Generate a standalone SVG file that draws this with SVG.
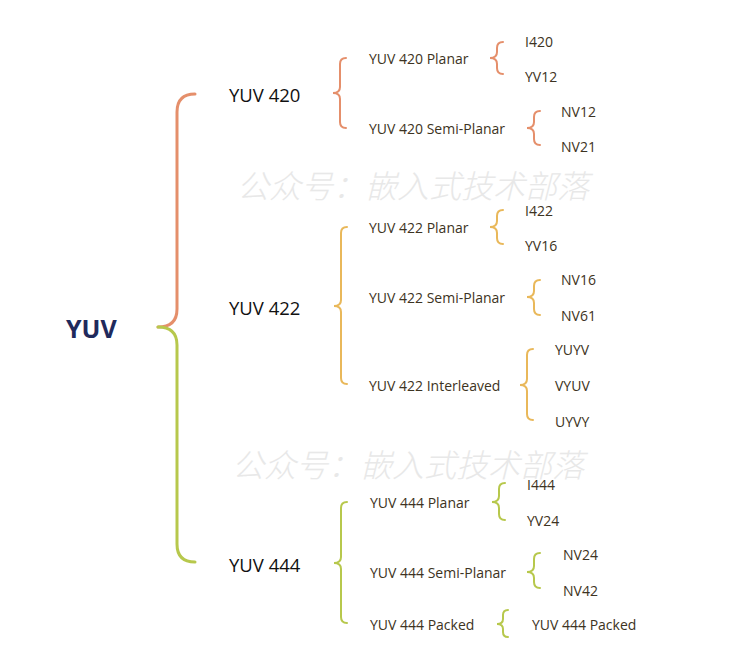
<svg xmlns="http://www.w3.org/2000/svg" width="731" height="672" viewBox="0 0 731 672">
<style>
.bg{fill:#fff}
.wm{font-family:"Noto Sans CJK SC","Noto Sans CJK JP",sans-serif;font-size:32px;font-style:italic;font-weight:300;fill:#e8e8e8}
.root{font-family:"Open Sans","Noto Sans",sans-serif;font-size:25px;font-weight:700;fill:#1f2a5c;dominant-baseline:central}
.l1{font-family:"Open Sans","Noto Sans",sans-serif;font-size:18.5px;fill:#111;dominant-baseline:central}
.l2{font-family:"Open Sans","Noto Sans",sans-serif;font-size:14px;fill:#3d3322;dominant-baseline:central}
.b{fill:none;stroke-width:2;stroke-linecap:round}
.big{fill:none;stroke-width:3;stroke-linecap:round}
.o{stroke:#e58f6b}
.y{stroke:#e9b85a}
.g{stroke:#b7c84c}
</style>
<rect class="bg" x="0" y="0" width="731" height="672"/>
<text class="wm" x="237" y="198">公众号：嵌入式技术部落</text>
<text class="wm" x="232" y="477">公众号：嵌入式技术部落</text>
<g id="connectors">
<path class="big o" d="M195,94 Q177,94 177,112 L177,309 Q177,327 158,327"/>
<path class="big g" d="M158,327 Q177,327 177,345 L177,544 Q177,562 195,562"/>
<path class="b o" d="M346,58 Q340,58 340,64 L340,87 Q340,93 333,93 Q340,93 340,99 L340,122 Q340,128 346,128"/>
<path class="b o" d="M503,42 Q497,42 497,48 L497,52 Q497,58 490,58 Q497,58 497,64 L497,68 Q497,74 503,74"/>
<path class="b o" d="M540,111 Q534,111 534,117 L534,122 Q534,128 527,128 Q534,128 534,134 L534,139 Q534,145 540,145"/>
<path class="b y" d="M347,227 Q341,227 341,233 L341,300 Q341,306 334,306 Q341,306 341,312 L341,378 Q341,384 347,384"/>
<path class="b y" d="M503,210 Q497,210 497,216 L497,221 Q497,227 490,227 Q497,227 497,233 L497,238 Q497,244 503,244"/>
<path class="b y" d="M540,280 Q534,280 534,286 L534,291 Q534,297 527,297 Q534,297 534,303 L534,309 Q534,315 540,315"/>
<path class="b y" d="M533,349 Q527,349 527,355 L527,379 Q527,385 520,385 Q527,385 527,391 L527,414 Q527,420 533,420"/>
<path class="b g" d="M347,502 Q341,502 341,508 L341,557 Q341,563 334,563 Q341,563 341,569 L341,617 Q341,623 347,623"/>
<path class="b g" d="M505,483 Q499,483 499,489 L499,496 Q499,502 492,502 Q499,502 499,508 L499,514 Q499,520 505,520"/>
<path class="b g" d="M540,553 Q534,553 534,559 L534,566 Q534,572 527,572 Q534,572 534,578 L534,582 Q534,588 540,588"/>
<path class="b g" d="M508,610 Q503,610 503,615 L503,619 Q503,624 497,624 Q503,624 503,629 L503,632 Q503,637 508,637"/>
</g>
<g id="yuv"><text class="root" x="66" y="328">YUV</text></g>
<g id="yuv420"><text class="l1" x="229" y="94">YUV 420</text></g>
<g id="yuv422"><text class="l1" x="229" y="307">YUV 422</text></g>
<g id="yuv444"><text class="l1" x="229" y="564">YUV 444</text></g>
<g id="yuv420p"><text class="l2" x="369" y="58">YUV 420 Planar</text></g>
<g id="yuv420sp"><text class="l2" x="369" y="128">YUV 420 Semi-Planar</text></g>
<g id="i420"><text class="l2" x="525" y="41">I420</text></g>
<g id="yv12"><text class="l2" x="525" y="76">YV12</text></g>
<g id="nv12"><text class="l2" x="561" y="111">NV12</text></g>
<g id="nv21"><text class="l2" x="561" y="146">NV21</text></g>
<g id="yuv422p"><text class="l2" x="369" y="227">YUV 422 Planar</text></g>
<g id="yuv422sp"><text class="l2" x="369" y="297">YUV 422 Semi-Planar</text></g>
<g id="yuv422i"><text class="l2" x="369" y="385">YUV 422 Interleaved</text></g>
<g id="i422"><text class="l2" x="525" y="210">I422</text></g>
<g id="yv16"><text class="l2" x="525" y="245">YV16</text></g>
<g id="nv16"><text class="l2" x="561" y="279">NV16</text></g>
<g id="nv61"><text class="l2" x="561" y="315">NV61</text></g>
<g id="yuyv"><text class="l2" x="555" y="349">YUYV</text></g>
<g id="vyuv"><text class="l2" x="555" y="385">VYUV</text></g>
<g id="uyvy"><text class="l2" x="555" y="421">UYVY</text></g>
<g id="yuv444p"><text class="l2" x="370" y="502">YUV 444 Planar</text></g>
<g id="yuv444sp"><text class="l2" x="370" y="572">YUV 444 Semi-Planar</text></g>
<g id="yuv444pk"><text class="l2" x="370" y="624">YUV 444 Packed</text></g>
<g id="i444"><text class="l2" x="527" y="484">I444</text></g>
<g id="yv24"><text class="l2" x="527" y="520">YV24</text></g>
<g id="nv24"><text class="l2" x="563" y="554">NV24</text></g>
<g id="nv42"><text class="l2" x="563" y="590">NV42</text></g>
<g id="yuv444pk2"><text class="l2" x="532" y="624">YUV 444 Packed</text></g>
</svg>
